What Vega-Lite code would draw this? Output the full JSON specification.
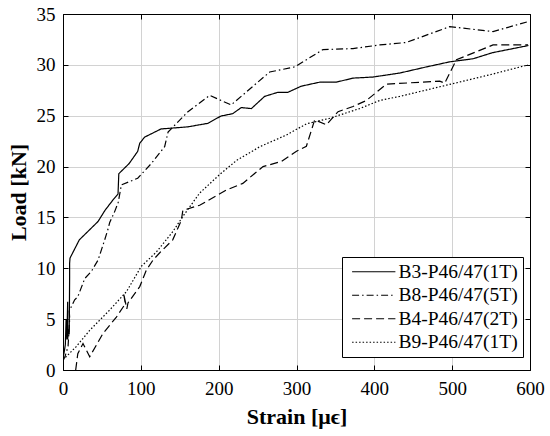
{
  "$schema": "https://vega.github.io/schema/vega-lite/v6.json",
  "width": 467,
  "height": 356,
  "autosize": "none",
  "padding": {"left": 63, "top": 14, "right": 20, "bottom": 66},
  "background": "white",
  "data": {
    "values": [
      {"s": "B3-P46/47(1T)", "i": 1, "x": 1, "y": 1.5},
      {"s": "B3-P46/47(1T)", "i": 2, "x": 3, "y": 2.5},
      {"s": "B3-P46/47(1T)", "i": 3, "x": 4, "y": 5},
      {"s": "B3-P46/47(1T)", "i": 4, "x": 5, "y": 3},
      {"s": "B3-P46/47(1T)", "i": 5, "x": 6, "y": 6.7},
      {"s": "B3-P46/47(1T)", "i": 6, "x": 6, "y": 3},
      {"s": "B3-P46/47(1T)", "i": 7, "x": 7, "y": 4},
      {"s": "B3-P46/47(1T)", "i": 8, "x": 8, "y": 3.5},
      {"s": "B3-P46/47(1T)", "i": 9, "x": 8.5, "y": 9},
      {"s": "B3-P46/47(1T)", "i": 10, "x": 8.5, "y": 10.5},
      {"s": "B3-P46/47(1T)", "i": 11, "x": 9, "y": 11},
      {"s": "B3-P46/47(1T)", "i": 12, "x": 21, "y": 12.8},
      {"s": "B3-P46/47(1T)", "i": 13, "x": 45, "y": 14.6},
      {"s": "B3-P46/47(1T)", "i": 14, "x": 54, "y": 15.7},
      {"s": "B3-P46/47(1T)", "i": 15, "x": 64, "y": 16.7},
      {"s": "B3-P46/47(1T)", "i": 16, "x": 70.7, "y": 17.3},
      {"s": "B3-P46/47(1T)", "i": 17, "x": 71.7, "y": 19.3},
      {"s": "B3-P46/47(1T)", "i": 18, "x": 85, "y": 20.3},
      {"s": "B3-P46/47(1T)", "i": 19, "x": 96, "y": 21.5},
      {"s": "B3-P46/47(1T)", "i": 20, "x": 98.6, "y": 22.3},
      {"s": "B3-P46/47(1T)", "i": 21, "x": 105, "y": 22.9},
      {"s": "B3-P46/47(1T)", "i": 22, "x": 126, "y": 23.7},
      {"s": "B3-P46/47(1T)", "i": 23, "x": 160, "y": 23.9},
      {"s": "B3-P46/47(1T)", "i": 24, "x": 186, "y": 24.25},
      {"s": "B3-P46/47(1T)", "i": 25, "x": 203, "y": 24.97},
      {"s": "B3-P46/47(1T)", "i": 26, "x": 218, "y": 25.2},
      {"s": "B3-P46/47(1T)", "i": 27, "x": 229, "y": 25.8},
      {"s": "B3-P46/47(1T)", "i": 28, "x": 242, "y": 25.7},
      {"s": "B3-P46/47(1T)", "i": 29, "x": 259, "y": 26.9},
      {"s": "B3-P46/47(1T)", "i": 30, "x": 276, "y": 27.3},
      {"s": "B3-P46/47(1T)", "i": 31, "x": 289, "y": 27.3},
      {"s": "B3-P46/47(1T)", "i": 32, "x": 306, "y": 27.9},
      {"s": "B3-P46/47(1T)", "i": 33, "x": 330, "y": 28.3},
      {"s": "B3-P46/47(1T)", "i": 34, "x": 351, "y": 28.3},
      {"s": "B3-P46/47(1T)", "i": 35, "x": 373, "y": 28.7},
      {"s": "B3-P46/47(1T)", "i": 36, "x": 398, "y": 28.8},
      {"s": "B3-P46/47(1T)", "i": 37, "x": 433, "y": 29.2},
      {"s": "B3-P46/47(1T)", "i": 38, "x": 467, "y": 29.8},
      {"s": "B3-P46/47(1T)", "i": 39, "x": 497, "y": 30.3},
      {"s": "B3-P46/47(1T)", "i": 40, "x": 527, "y": 30.6},
      {"s": "B3-P46/47(1T)", "i": 41, "x": 552, "y": 31.2},
      {"s": "B3-P46/47(1T)", "i": 42, "x": 598, "y": 31.9},

      {"s": "B8-P46/47(5T)", "i": 1, "x": 0, "y": 1},
      {"s": "B8-P46/47(5T)", "i": 2, "x": 2, "y": 1.2},
      {"s": "B8-P46/47(5T)", "i": 3, "x": 6.5, "y": 2.3},
      {"s": "B8-P46/47(5T)", "i": 4, "x": 8.6, "y": 5.1},
      {"s": "B8-P46/47(5T)", "i": 5, "x": 8, "y": 5.8},
      {"s": "B8-P46/47(5T)", "i": 6, "x": 15, "y": 6.9},
      {"s": "B8-P46/47(5T)", "i": 7, "x": 19, "y": 7.2},
      {"s": "B8-P46/47(5T)", "i": 8, "x": 28, "y": 9.0},
      {"s": "B8-P46/47(5T)", "i": 9, "x": 36.5, "y": 9.7},
      {"s": "B8-P46/47(5T)", "i": 10, "x": 45, "y": 10.8},
      {"s": "B8-P46/47(5T)", "i": 11, "x": 53.6, "y": 12.8},
      {"s": "B8-P46/47(5T)", "i": 12, "x": 58, "y": 13.9},
      {"s": "B8-P46/47(5T)", "i": 13, "x": 60, "y": 14.5},
      {"s": "B8-P46/47(5T)", "i": 14, "x": 66, "y": 15.5},
      {"s": "B8-P46/47(5T)", "i": 15, "x": 71, "y": 16.5},
      {"s": "B8-P46/47(5T)", "i": 16, "x": 75, "y": 18.2},
      {"s": "B8-P46/47(5T)", "i": 17, "x": 96, "y": 18.85},
      {"s": "B8-P46/47(5T)", "i": 18, "x": 113.5, "y": 20.3},
      {"s": "B8-P46/47(5T)", "i": 19, "x": 130.6, "y": 21.96},
      {"s": "B8-P46/47(5T)", "i": 20, "x": 135, "y": 23.4},
      {"s": "B8-P46/47(5T)", "i": 21, "x": 160.6, "y": 25.4},
      {"s": "B8-P46/47(5T)", "i": 22, "x": 188.5, "y": 27.0},
      {"s": "B8-P46/47(5T)", "i": 23, "x": 216, "y": 26.06},
      {"s": "B8-P46/47(5T)", "i": 24, "x": 265.6, "y": 29.3},
      {"s": "B8-P46/47(5T)", "i": 25, "x": 297.7, "y": 29.8},
      {"s": "B8-P46/47(5T)", "i": 26, "x": 334, "y": 31.5},
      {"s": "B8-P46/47(5T)", "i": 27, "x": 372.6, "y": 31.6},
      {"s": "B8-P46/47(5T)", "i": 28, "x": 407, "y": 31.96},
      {"s": "B8-P46/47(5T)", "i": 29, "x": 441, "y": 32.2},
      {"s": "B8-P46/47(5T)", "i": 30, "x": 497, "y": 33.76},
      {"s": "B8-P46/47(5T)", "i": 31, "x": 552.5, "y": 33.27},
      {"s": "B8-P46/47(5T)", "i": 32, "x": 597.5, "y": 34.25},

      {"s": "B4-P46/47(2T)", "i": 1, "x": 16.3, "y": 0},
      {"s": "B4-P46/47(2T)", "i": 2, "x": 19, "y": 1.6},
      {"s": "B4-P46/47(2T)", "i": 3, "x": 25.7, "y": 2.6},
      {"s": "B4-P46/47(2T)", "i": 4, "x": 34.3, "y": 1.3},
      {"s": "B4-P46/47(2T)", "i": 5, "x": 51.4, "y": 3.6},
      {"s": "B4-P46/47(2T)", "i": 6, "x": 68.6, "y": 5.2},
      {"s": "B4-P46/47(2T)", "i": 7, "x": 80, "y": 6.5},
      {"s": "B4-P46/47(2T)", "i": 8, "x": 78, "y": 7.5},
      {"s": "B4-P46/47(2T)", "i": 9, "x": 82, "y": 6},
      {"s": "B4-P46/47(2T)", "i": 10, "x": 83.5, "y": 6.6},
      {"s": "B4-P46/47(2T)", "i": 11, "x": 98.6, "y": 8.2},
      {"s": "B4-P46/47(2T)", "i": 12, "x": 107, "y": 9.8},
      {"s": "B4-P46/47(2T)", "i": 13, "x": 115.6, "y": 10.8},
      {"s": "B4-P46/47(2T)", "i": 14, "x": 124, "y": 11.5},
      {"s": "B4-P46/47(2T)", "i": 15, "x": 141, "y": 12.8},
      {"s": "B4-P46/47(2T)", "i": 16, "x": 152, "y": 14.7},
      {"s": "B4-P46/47(2T)", "i": 17, "x": 154, "y": 15.7},
      {"s": "B4-P46/47(2T)", "i": 18, "x": 175.6, "y": 16.2},
      {"s": "B4-P46/47(2T)", "i": 19, "x": 210, "y": 17.7},
      {"s": "B4-P46/47(2T)", "i": 20, "x": 231, "y": 18.35},
      {"s": "B4-P46/47(2T)", "i": 21, "x": 257, "y": 20},
      {"s": "B4-P46/47(2T)", "i": 22, "x": 280.6, "y": 20.5},
      {"s": "B4-P46/47(2T)", "i": 23, "x": 300, "y": 21.5},
      {"s": "B4-P46/47(2T)", "i": 24, "x": 312.7, "y": 22},
      {"s": "B4-P46/47(2T)", "i": 25, "x": 323.4, "y": 24.6},
      {"s": "B4-P46/47(2T)", "i": 26, "x": 338.4, "y": 24.1},
      {"s": "B4-P46/47(2T)", "i": 27, "x": 353.4, "y": 25.4},
      {"s": "B4-P46/47(2T)", "i": 28, "x": 372.6, "y": 25.9},
      {"s": "B4-P46/47(2T)", "i": 29, "x": 389.8, "y": 26.5},
      {"s": "B4-P46/47(2T)", "i": 30, "x": 415.5, "y": 28.1},
      {"s": "B4-P46/47(2T)", "i": 31, "x": 484, "y": 28.4},
      {"s": "B4-P46/47(2T)", "i": 32, "x": 490.4, "y": 28.2},
      {"s": "B4-P46/47(2T)", "i": 33, "x": 505.5, "y": 30.5},
      {"s": "B4-P46/47(2T)", "i": 34, "x": 552.5, "y": 31.96},
      {"s": "B4-P46/47(2T)", "i": 35, "x": 597.5, "y": 31.96},

      {"s": "B9-P46/47(1T)", "i": 1, "x": 0, "y": 1},
      {"s": "B9-P46/47(1T)", "i": 2, "x": 17, "y": 2.3},
      {"s": "B9-P46/47(1T)", "i": 3, "x": 34.3, "y": 3.9},
      {"s": "B9-P46/47(1T)", "i": 4, "x": 60, "y": 5.9},
      {"s": "B9-P46/47(1T)", "i": 5, "x": 81.5, "y": 7.7},
      {"s": "B9-P46/47(1T)", "i": 6, "x": 100.7, "y": 10.2},
      {"s": "B9-P46/47(1T)", "i": 7, "x": 120, "y": 11.6},
      {"s": "B9-P46/47(1T)", "i": 8, "x": 141, "y": 13.6},
      {"s": "B9-P46/47(1T)", "i": 9, "x": 154, "y": 15.1},
      {"s": "B9-P46/47(1T)", "i": 10, "x": 175.6, "y": 17.4},
      {"s": "B9-P46/47(1T)", "i": 11, "x": 201, "y": 19.2},
      {"s": "B9-P46/47(1T)", "i": 12, "x": 223, "y": 20.6},
      {"s": "B9-P46/47(1T)", "i": 13, "x": 253, "y": 21.96},
      {"s": "B9-P46/47(1T)", "i": 14, "x": 287, "y": 23.1},
      {"s": "B9-P46/47(1T)", "i": 15, "x": 312.7, "y": 24.2},
      {"s": "B9-P46/47(1T)", "i": 16, "x": 342.7, "y": 24.75},
      {"s": "B9-P46/47(1T)", "i": 17, "x": 381, "y": 25.7},
      {"s": "B9-P46/47(1T)", "i": 18, "x": 407, "y": 26.5},
      {"s": "B9-P46/47(1T)", "i": 19, "x": 432.6, "y": 26.9},
      {"s": "B9-P46/47(1T)", "i": 20, "x": 492.6, "y": 28.0},
      {"s": "B9-P46/47(1T)", "i": 21, "x": 552.5, "y": 29.1},
      {"s": "B9-P46/47(1T)", "i": 22, "x": 597.5, "y": 30.0}
    ]
  },
  "layer": [
    {
      "mark": {"type": "line", "color": "black", "strokeWidth": 1.2, "clip": true},
      "encoding": {
        "x": {
          "field": "x", "type": "quantitative", "title": "Strain [μϵ]",
          "scale": {"domain": [0, 600], "nice": false},
          "axis": {"orient": "bottom", "values": [0, 100, 200, 300, 400, 500, 600], "tickSize": -5, "labelPadding": 14, "titlePadding": 8}
        },
        "y": {
          "field": "y", "type": "quantitative", "title": "Load [kN]",
          "scale": {"domain": [0, 35], "nice": false},
          "axis": {"orient": "left", "values": [0, 5, 10, 15, 20, 25, 30, 35], "tickSize": -5, "labelPadding": 13, "titlePadding": 6}
        },
        "strokeDash": {
          "field": "s", "type": "nominal", "title": null,
          "scale": {
            "domain": ["B3-P46/47(1T)", "B8-P46/47(5T)", "B4-P46/47(2T)", "B9-P46/47(1T)"],
            "range": [[1, 0], [7, 3, 1.5, 3], [8, 4], [1.5, 2]]
          }
        },
        "order": {"field": "i", "type": "quantitative"}
      }
    },
    {
      "mark": {"type": "point", "opacity": 0},
      "encoding": {
        "x": {
          "field": "x", "type": "quantitative",
          "axis": {"orient": "top", "values": [0, 100, 200, 300, 400, 500, 600], "tickSize": -5, "labels": false, "grid": false, "title": null}
        },
        "y": {
          "field": "y", "type": "quantitative",
          "axis": {"orient": "right", "values": [0, 5, 10, 15, 20, 25, 30, 35], "tickSize": -5, "labels": false, "grid": false, "title": null}
        }
      }
    }
  ],
  "resolve": {"axis": {"x": "independent", "y": "independent"}},
  "config": {
    "font": "Liberation Serif",
    "view": {"stroke": "black", "strokeWidth": 1},
    "axis": {
      "labelFont": "Liberation Serif",
      "labelFontSize": 19,
      "labelColor": "black",
      "titleFont": "Liberation Serif",
      "titleFontSize": 22,
      "titleFontWeight": "bold",
      "titleColor": "black",
      "gridColor": "#d2d2d2",
      "gridWidth": 1,
      "tickColor": "black",
      "domainColor": "black",
      "labelFlush": false
    },
    "legend": {
      "orient": "none",
      "legendX": 279,
      "legendY": 243,
      "fillColor": "white",
      "strokeColor": "black",
      "padding": 5,
      "labelFont": "Liberation Serif",
      "labelFontSize": 19.5,
      "labelColor": "black",
      "symbolType": "M-5,0H5",
      "symbolSize": 75,
      "symbolStrokeColor": "black",
      "symbolStrokeWidth": 1.2,
      "symbolOffset": 17,
      "labelOffset": 15,
      "rowPadding": 2.5
    }
  }
}
